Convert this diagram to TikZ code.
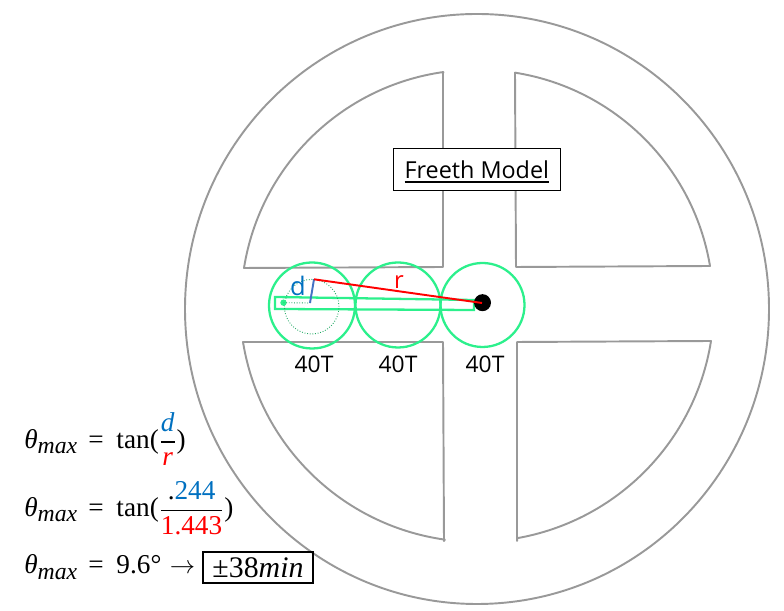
\documentclass[tikz,border=0pt]{standalone}
\usepackage{amsmath, amssymb}
\usepackage[no-math]{fontspec}
\setmainfont{Open Sans}
\newfontfamily\eqfont{Liberation Serif}
\usepackage{xcolor}
\usetikzlibrary{positioning}
\definecolor{geargreen}{HTML}{2CF08C}
\definecolor{dblue}{HTML}{0070C0}
\definecolor{armblue}{HTML}{4472C4}
\definecolor{wheelgray}{HTML}{999999}
\tikzstyle{wheel}=[draw=wheelgray, line width=1.1pt, line join=round]
\tikzstyle{gear}=[draw=geargreen, line width=1.3pt]
\tikzstyle{pinpath}=[draw=geargreen!70!black, line width=0.5pt, densely dotted]
\tikzstyle{tooth}=[font=\fontsize{13}{15}\selectfont, inner sep=0pt]
\tikzstyle{eqn}=[anchor=west, inner sep=0pt, font=\fontsize{15.5}{18}\selectfont]
\newcommand{\mv}[1]{\text{\eqfont\itshape #1}}
\newcommand{\mn}[1]{\text{\eqfont #1}}
\newcommand{\maxangle}{\mv{θ}\raisebox{-3pt}{\fontsize{13.5}{15}\selectfont\eqfont\itshape max}\mkern8mu\mn{=}\mkern9mu}
\newcommand{\tanfrac}[2]{\mn{tan(}\genfrac{}{}{0.8pt}{0}{#1}{#2}\mn{)}}
\newcommand{\thickunder}[1]{\vtop{\hbox{\rule{0pt}{13pt}#1}\kern1.6pt\hrule height 1.1pt}}
\begin{document}
\begin{tikzpicture}[x=0.02cm,y=0.02cm]
	\useasboundingbox (0,0) rectangle (784,611);
	% wheel and its four openings
	\draw[wheel] (477,302) ellipse (292 and 295);
	\draw[wheel] (443,538) -- (443,344) -- (244,343) arc[start angle=171, end angle=98, radius=235] -- cycle;
	\draw[wheel] (515,537) -- (516,344) -- (710,345) arc[start angle=9.5, end angle=81, radius=235] -- cycle;
	\draw[wheel] (444,70) -- (443,269) -- (243,269) arc[start angle=189.2, end angle=262, radius=238] -- cycle;
	\draw[wheel] (517,70) -- (517,269) -- (711,270) arc[start angle=-9, end angle=-80, radius=238] -- cycle;
	% gears
	\draw[gear] (312,305.5) circle (43);
	\draw[gear] (398,306) circle (42.5);
	\draw[gear] (482.5,306) circle (42);
	\draw[gear] (275,314) -- (474,311) -- (474,301) -- (275,302) -- cycle;
	\draw[pinpath] (311.7,304.3) circle (27.3);
	% named points of the pin arm
	\coordinate (slotpin) at (283.5,308.3);
	\coordinate (armfoot) at (310,308);
	\coordinate (armtop) at (314,331.7);
	\coordinate (hub) at (482,308);
	\fill[geargreen] (slotpin) circle (3.2);
	\draw[pinpath] (slotpin) -- (armfoot);
	\fill[black] (482.5,308.3) circle (8.5);
	\draw[armblue,line width=1.1pt] (armfoot) -- (armtop);
	\draw[red,line width=1.1pt] (armtop) -- (hub);
	\node[tooth,text=dblue,font=\fontsize{14.5}{16}\selectfont] (dlabel) at (298,325) {d};
	\node[tooth,text=red,font=\fontsize{13.5}{15}\selectfont] (rlabel) at (399,329) {r};
	\node[tooth] (teetha) at (314,247) {40T};
	\node[tooth] (teethb) at (398,247) {40T};
	\node[tooth] (teethc) at (485,247) {40T};
	\node[draw=black,fill=white,line width=0.5pt,minimum width=167*0.02cm,minimum height=41.5*0.02cm,inner sep=0pt,font=\fontsize{13.3}{15}\selectfont] (modelbox) at (476.8,441.8) {\thickunder{Freeth Model}};
	% formulas
	\node[eqn] (eqnone) at (24,172) {$\maxangle\tanfrac{\textcolor{dblue}{\mv{d}}}{\textcolor{red}{\mv{r}}}$};
	\node[eqn] (eqntwo) at (24,103) {$\maxangle\tanfrac{\mn{.}\textcolor{dblue}{\mn{244}}}{\textcolor{red}{\mn{1.443}}}$};
	\node[eqn] (eqnthree) at (24,44) {$\maxangle\mn{9.6°}\mkern1mu\rightarrow$};
	\node[draw=black,line width=0.8pt,minimum width=110*0.02cm,minimum height=31*0.02cm,inner sep=0pt,font=\fontsize{17}{19}\selectfont] (rangebox) at (258,43.5) {$\mn{±38}\mv{min}$};
\end{tikzpicture}
\end{document}
